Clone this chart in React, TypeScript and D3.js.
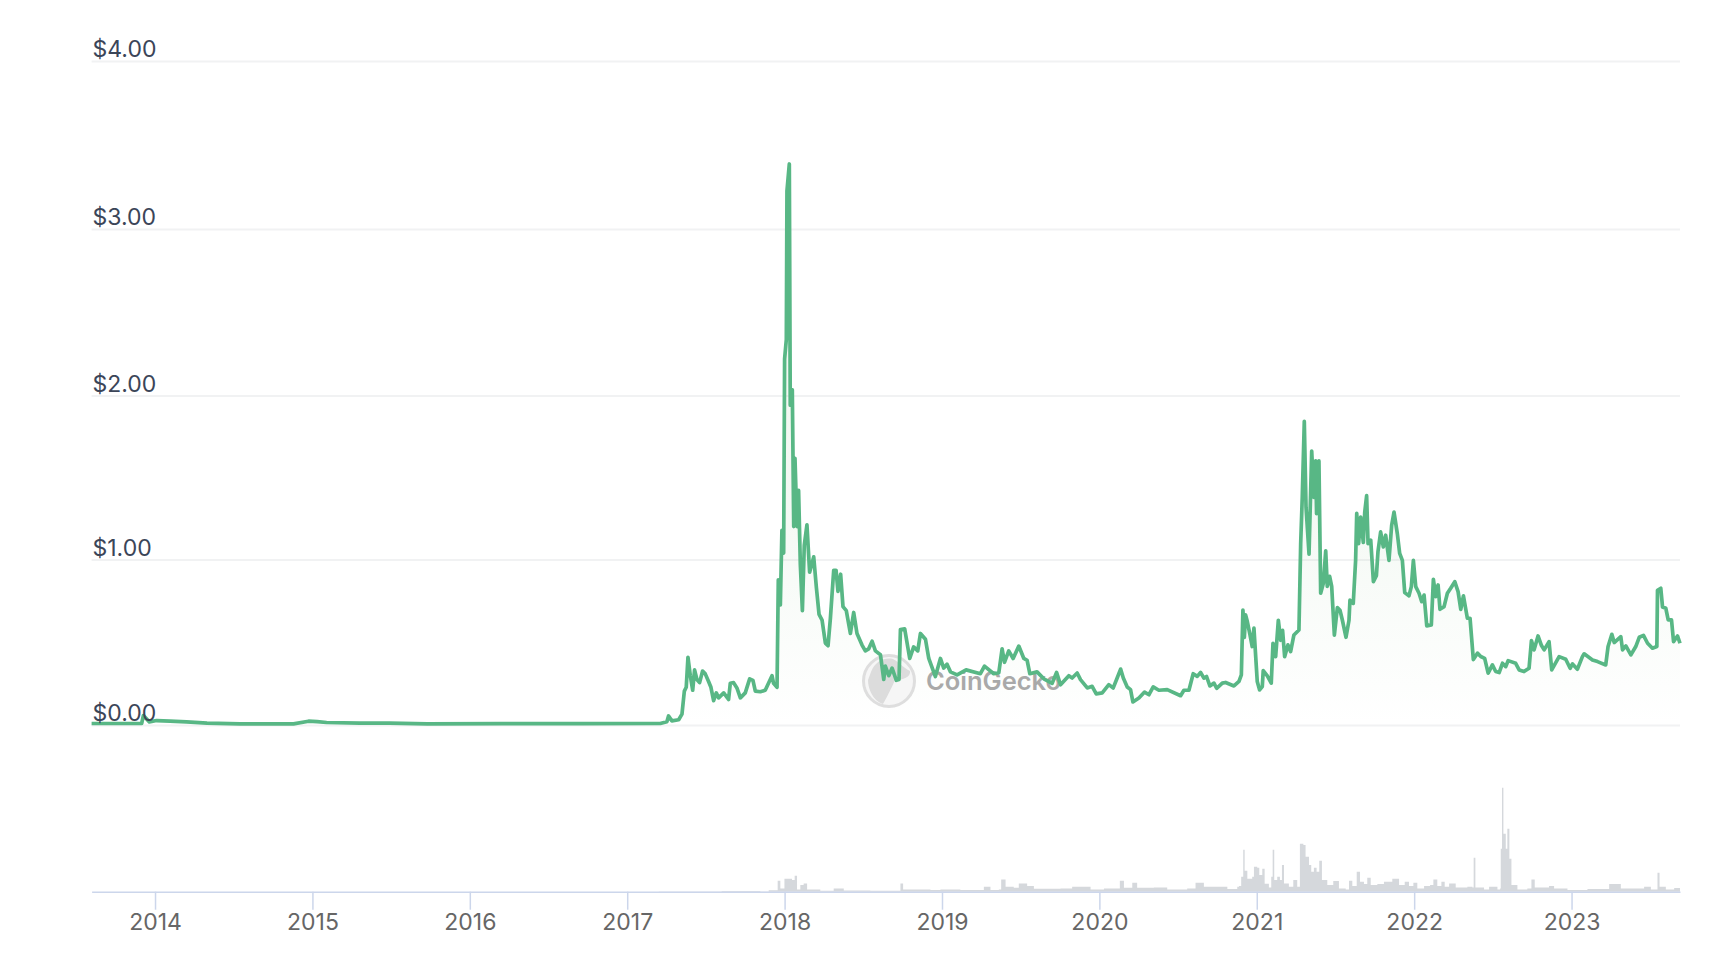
import * as d3 from "d3";
import { useEffect, useRef } from "react";

// price history (decimal years, USD)
const priceYears = [
  2013.597, 2013.915, 2013.926, 2013.964, 2014.01, 2014.095, 2014.2, 2014.33, 2014.54, 2014.88, 2014.975, 2015.03,
  2015.09, 2015.3, 2015.49, 2015.73, 2016.2, 2016.7, 2017.21, 2017.252, 2017.263, 2017.284, 2017.327, 2017.348,
  2017.363, 2017.375, 2017.386, 2017.401, 2017.416, 2017.428, 2017.443, 2017.46, 2017.479, 2017.496, 2017.517,
  2017.532, 2017.549, 2017.566, 2017.581, 2017.613, 2017.644, 2017.655, 2017.676, 2017.697, 2017.719, 2017.75,
  2017.778, 2017.799, 2017.814, 2017.846, 2017.877, 2017.92, 2017.93, 2017.952, 2017.96, 2017.973, 2017.983,
  2017.994, 2018.0, 2018.011, 2018.015, 2018.03, 2018.036, 2018.049, 2018.058, 2018.066, 2018.079, 2018.089,
  2018.1, 2018.113, 2018.125, 2018.142, 2018.159, 2018.185, 2018.202, 2018.219, 2018.238, 2018.259, 2018.276,
  2018.291, 2018.312, 2018.327, 2018.339, 2018.356, 2018.371, 2018.392, 2018.418, 2018.439, 2018.46, 2018.492,
  2018.513, 2018.534, 2018.556, 2018.577, 2018.609, 2018.63, 2018.64, 2018.662, 2018.683, 2018.71, 2018.727,
  2018.736, 2018.763, 2018.795, 2018.82, 2018.846, 2018.863, 2018.895, 2018.916, 2018.958, 2018.99, 2019.011,
  2019.032, 2019.054, 2019.096, 2019.153, 2019.244, 2019.27, 2019.329, 2019.361, 2019.382, 2019.397, 2019.424,
  2019.452, 2019.488, 2019.52, 2019.541, 2019.558, 2019.604, 2019.647, 2019.7, 2019.728, 2019.753, 2019.806,
  2019.827, 2019.859, 2019.88, 2019.923, 2019.954, 2019.98, 2020.018, 2020.06, 2020.088, 2020.113, 2020.135,
  2020.152, 2020.177, 2020.198, 2020.213, 2020.251, 2020.287, 2020.315, 2020.342, 2020.378, 2020.431, 2020.516,
  2020.537, 2020.569, 2020.596, 2020.622, 2020.643, 2020.664, 2020.681, 2020.702, 2020.728, 2020.745, 2020.781,
  2020.802, 2020.855, 2020.887, 2020.902, 2020.912, 2020.921, 2020.929, 2020.94, 2020.957, 2020.971, 2020.982,
  2021.003, 2021.018, 2021.035, 2021.041, 2021.067, 2021.092, 2021.103, 2021.12, 2021.137, 2021.152, 2021.164,
  2021.177, 2021.198, 2021.215, 2021.236, 2021.268, 2021.279, 2021.289, 2021.302, 2021.313, 2021.332, 2021.349,
  2021.363, 2021.374, 2021.38, 2021.395, 2021.406, 2021.423, 2021.438, 2021.448, 2021.463, 2021.476, 2021.493,
  2021.512, 2021.529, 2021.544, 2021.567, 2021.586, 2021.592, 2021.613, 2021.628, 2021.635, 2021.647, 2021.66,
  2021.677, 2021.686, 2021.698, 2021.707, 2021.724, 2021.741, 2021.76, 2021.77, 2021.787, 2021.804, 2021.819,
  2021.84, 2021.857, 2021.872, 2021.893, 2021.908, 2021.925, 2021.94, 2021.967, 2021.982, 2021.995, 2022.01,
  2022.031, 2022.048, 2022.063, 2022.08, 2022.109, 2022.122, 2022.137, 2022.152, 2022.164, 2022.19, 2022.211,
  2022.232, 2022.258, 2022.279, 2022.296, 2022.313, 2022.338, 2022.355, 2022.376, 2022.402, 2022.423, 2022.448,
  2022.47, 2022.497, 2022.518, 2022.54, 2022.561, 2022.582, 2022.597, 2022.645, 2022.667, 2022.698, 2022.73,
  2022.745, 2022.762, 2022.787, 2022.809, 2022.826, 2022.857, 2022.874, 2022.921, 2022.963, 2022.991, 2023.006,
  2023.037, 2023.069, 2023.08, 2023.133, 2023.165, 2023.217, 2023.232, 2023.256, 2023.271, 2023.313, 2023.324,
  2023.345, 2023.377, 2023.408, 2023.43, 2023.457, 2023.483, 2023.514, 2023.542, 2023.546, 2023.567, 2023.578,
  2023.599, 2023.614, 2023.635, 2023.648, 2023.673, 2023.689,
];
const priceValues = [
  0.012, 0.012, 0.06, 0.022, 0.03, 0.027, 0.022, 0.014, 0.01, 0.01, 0.026, 0.023,
  0.018, 0.014, 0.014, 0.01, 0.011, 0.011, 0.012, 0.023, 0.058, 0.028, 0.035, 0.069,
  0.208, 0.231, 0.412, 0.301, 0.213, 0.336, 0.278, 0.259, 0.329, 0.312, 0.266,
  0.231, 0.15, 0.197, 0.167, 0.197, 0.157, 0.255, 0.259, 0.227, 0.167, 0.197,
  0.282, 0.273, 0.208, 0.204, 0.213, 0.301, 0.255, 0.231, 0.88, 0.729, 1.181,
  1.042, 2.222, 2.34, 3.229, 3.39, 1.944, 2.037, 1.204, 1.62, 1.204, 1.424,
  0.972, 0.694, 1.088, 1.215, 0.926, 1.019, 0.833, 0.671, 0.637, 0.498, 0.482,
  0.648, 0.938, 0.938, 0.81, 0.914, 0.718, 0.694, 0.556, 0.683, 0.556, 0.486,
  0.451, 0.463, 0.509, 0.451, 0.428, 0.278, 0.359, 0.301, 0.347, 0.273, 0.278,
  0.579, 0.584, 0.405, 0.475, 0.451, 0.556, 0.521, 0.405, 0.296, 0.405, 0.347,
  0.37, 0.324, 0.306, 0.336, 0.313, 0.359, 0.313, 0.319, 0.463, 0.382, 0.451,
  0.405, 0.48, 0.405, 0.394, 0.313, 0.324, 0.282, 0.255, 0.321, 0.246, 0.301,
  0.287, 0.317, 0.277, 0.227, 0.237, 0.191, 0.197, 0.247, 0.227, 0.287, 0.341,
  0.287, 0.233, 0.217, 0.142, 0.166, 0.202, 0.186, 0.233, 0.213, 0.217, 0.18,
  0.213, 0.213, 0.313, 0.297, 0.321, 0.286, 0.296, 0.239, 0.256, 0.225, 0.256,
  0.26, 0.239, 0.266, 0.306, 0.698, 0.533, 0.668, 0.628, 0.547, 0.477, 0.588,
  0.266, 0.215, 0.235, 0.332, 0.3, 0.256, 0.497, 0.416, 0.636, 0.515, 0.575,
  0.416, 0.487, 0.447, 0.547, 0.577, 1.101, 1.382, 1.845, 1.322, 1.036, 1.664,
  1.382, 1.604, 1.282, 1.604, 0.799, 0.859, 1.056, 0.841, 0.901, 0.841, 0.546,
  0.712, 0.696, 0.636, 0.533, 0.636, 0.757, 0.738, 0.998, 1.284, 1.1, 1.262,
  1.107, 1.292, 1.392, 1.1, 1.121, 0.869, 0.905, 1.05, 1.171, 1.08, 1.151,
  0.998, 1.211, 1.292, 1.161, 1.04, 0.998, 0.803, 0.783, 0.839, 0.998, 0.839,
  0.799, 0.748, 0.788, 0.602, 0.608, 0.883, 0.779, 0.849, 0.702, 0.718, 0.799,
  0.829, 0.869, 0.809, 0.702, 0.783, 0.648, 0.648, 0.398, 0.437, 0.417, 0.406,
  0.316, 0.366, 0.326, 0.32, 0.376, 0.356, 0.392, 0.376, 0.336, 0.326, 0.346,
  0.513, 0.457, 0.541, 0.483, 0.457, 0.507, 0.336, 0.416, 0.4, 0.346, 0.372,
  0.34, 0.416, 0.433, 0.396, 0.386, 0.366, 0.477, 0.551, 0.501, 0.537, 0.457,
  0.481, 0.427, 0.477, 0.533, 0.545, 0.497, 0.467, 0.477, 0.817, 0.829, 0.716,
  0.708, 0.638, 0.638, 0.507, 0.541, 0.497,
];

// traded volume, relative units (the chart has no volume axis)
const volumeYears = [
  2013.597, 2017.2, 2017.6, 2017.846, 2017.899, 2017.941, 2017.956, 2017.973, 2017.999, 2018.026, 2018.047, 2018.064,
  2018.079, 2018.1, 2018.121, 2018.143, 2018.185, 2018.227, 2018.312, 2018.376, 2018.545, 2018.725, 2018.736,
  2018.753, 2018.863, 2018.927, 2018.99, 2019.117, 2019.202, 2019.266, 2019.308, 2019.361, 2019.376, 2019.404,
  2019.456, 2019.488, 2019.541, 2019.584, 2019.647, 2019.753, 2019.827, 2019.944, 2020.029, 2020.13, 2020.156,
  2020.209, 2020.24, 2020.346, 2020.431, 2020.558, 2020.611, 2020.664, 2020.813, 2020.876, 2020.887, 2020.901,
  2020.914, 2020.923, 2020.94, 2020.971, 2020.982, 2021.003, 2021.016, 2021.035, 2021.05, 2021.077, 2021.092,
  2021.101, 2021.111, 2021.13, 2021.147, 2021.16, 2021.173, 2021.204, 2021.232, 2021.257, 2021.274, 2021.296,
  2021.31, 2021.332, 2021.346, 2021.363, 2021.38, 2021.397, 2021.414, 2021.448, 2021.486, 2021.522, 2021.565,
  2021.586, 2021.607, 2021.635, 2021.656, 2021.681, 2021.702, 2021.724, 2021.766, 2021.808, 2021.861, 2021.904,
  2021.94, 2021.967, 2021.995, 2022.02, 2022.063, 2022.101, 2022.122, 2022.147, 2022.173, 2022.194, 2022.222,
  2022.264, 2022.338, 2022.37, 2022.378, 2022.389, 2022.444, 2022.476, 2022.529, 2022.546, 2022.55, 2022.558,
  2022.567, 2022.582, 2022.592, 2022.605, 2022.618, 2022.656, 2022.719, 2022.745, 2022.766, 2022.857, 2022.889,
  2022.974, 2023.101, 2023.239, 2023.313, 2023.461, 2023.504, 2023.535, 2023.546, 2023.559, 2023.599, 2023.652,
  2023.689,
];
const volumeValues = [
  0, 0.2, 0.6, 0.3, 1.5, 1.5, 11, 3.3, 13, 13, 11.7, 16,
  2.3, 6.7, 8.3, 2.3, 2.3, 1, 3.3, 1.3, 1, 1, 8.3,
  2.3, 2.3, 1.7, 2.3, 1.7, 1.7, 5, 1.7, 2.3, 12.3, 5,
  4, 8.3, 5.7, 3, 3, 3.3, 5, 2.3, 3.3, 11, 4,
  9, 4, 4.3, 2.3, 3.3, 9, 5, 2.7, 5, 5.7, 15,
  42, 21, 13, 15, 25, 24, 16.7, 23, 8, 4.3, 15,
  42, 11.7, 15, 11.7, 26.7, 8.3, 5, 11.7, 5, 48, 46.7,
  35, 26.7, 20, 24, 20, 31, 11.7, 6.7, 10.7, 3.3, 2.3,
  11, 5.7, 20, 10, 7.7, 14, 6.7, 7.7, 10, 13, 6.7,
  10, 5.7, 9, 3.3, 5.7, 6.7, 12.3, 5.7, 10, 5, 8.3,
  4.3, 5, 4.3, 34, 4.3, 2.3, 5, 2.3, 3.3, 43, 104,
  58, 43, 63, 33, 6.7, 2.3, 3.3, 12.3, 4.3, 5.7, 3.3,
  1.7, 2.7, 7.7, 3.3, 5, 2.3, 2.3, 19, 5, 2.3, 3.7,
  3,
];

const yearTicks = [2014, 2015, 2016, 2017, 2018, 2019, 2020, 2021, 2022, 2023];
const priceTicks = [0, 1, 2, 3, 4];

const WIDTH = 1710;
const HEIGHT = 968;
const FONT = "Inter, 'Noto Sans', sans-serif";

const Chart = () => {
  const ref: any = useRef();

  useEffect(() => {
    const svg = d3.select(ref.current);
    svg.selectAll("*").remove();

    const left = 91.6, right = 1680;

    const x: any = d3.scaleLinear().domain([2013.597, 2023.689]).range([left, right]);
    // the grid in the picture is not quite evenly spaced
    const y: any = d3.scaleLinear().domain(priceTicks).range([725.5, 560, 396, 229.5, 61.5]);
    const yVol: any = d3.scaleLinear().domain([0, 104]).range([891.7, 787.7]);

    const price = priceYears.map((yr, i) => ({ yr, v: priceValues[i] }));
    const volume = volumeYears.map((yr, i) => ({ yr, v: volumeValues[i] }));

    // soft green under the price line
    const grad = svg.append("defs").append("linearGradient")
      .attr("id", "priceFill")
      .attr("gradientUnits", "userSpaceOnUse")
      .attr("x1", 0).attr("x2", 0)
      .attr("y1", y(1.5)).attr("y2", y(0));
    grad.append("stop").attr("offset", 0).attr("stop-color", "#78b578").attr("stop-opacity", 0.09);
    grad.append("stop").attr("offset", 1).attr("stop-color", "#78b578").attr("stop-opacity", 0);

    // grid
    svg.append("g").selectAll("line").data(priceTicks).join("line")
      .attr("x1", left).attr("x2", right)
      .attr("y1", (d: any) => y(d)).attr("y2", (d: any) => y(d))
      .attr("stroke", "#f1f2f3").attr("stroke-width", 2);

    // area
    const priceArea = d3.area<any>().x((d) => x(d.yr)).y0(y(0)).y1((d) => y(d.v));
    svg.append("path").datum(price).attr("fill", "url(#priceFill)").attr("d", priceArea);

    // watermark
    const mark = svg.append("g").attr("transform", "translate(889, 681)");
    mark.append("circle").attr("r", 25.5).attr("fill", "#f6f6f6").attr("stroke", "#dedede").attr("stroke-width", 3);
    mark.append("path")
      .attr("d", "M-18,-9 C-14,-20 -4,-24 4,-22 C10,-19 13,-14 21,-10 C22,-4 14,-1 6,-1 C3,6 -1,14 -6,23 C-16,20 -21,8 -21,-1 Z")
      .attr("fill", "#dcdcdc");
    svg.append("text")
      .attr("x", 926).attr("y", 690)
      .attr("font-family", FONT).attr("font-size", 25.5).attr("font-weight", 600)
      .attr("fill", "#a9a9a9")
      .text("CoinGecko");

    // price line
    const priceLine = d3.line<any>().x((d) => x(d.yr)).y((d) => y(d.v));
    svg.append("path").datum(price)
      .attr("fill", "none")
      .attr("stroke", "#58b785")
      .attr("stroke-width", 3.7)
      .attr("stroke-linejoin", "round")
      .attr("d", priceLine);

    // y labels sit above their grid line, inside the plot
    svg.append("g").selectAll("text").data(priceTicks).join("text")
      .attr("x", 92.5)
      .attr("y", (d: any) => y(d) - 4.5)
      .attr("font-family", FONT).attr("font-size", 23)
      .attr("fill", "#3b4558")
      .text((d: any) => d3.format("$.2f")(d));

    // volume
    const volArea = d3.area<any>().curve(d3.curveStepAfter).x((d) => x(d.yr)).y0(yVol(0)).y1((d) => yVol(d.v));
    svg.append("path").datum(volume).attr("fill", "#d5d8dc").attr("d", volArea);

    // x axis
    const axis = svg.append("g")
      .attr("transform", `translate(0, ${yVol(0)})`)
      .call(d3.axisBottom(x).tickValues(yearTicks).tickFormat(d3.format("d") as any).tickSize(18).tickSizeOuter(0).tickPadding(3.5) as any);
    axis.select(".domain").attr("stroke", "#ccd6eb").attr("stroke-width", 1.5);
    axis.selectAll(".tick line").attr("stroke", "#ccd6eb").attr("stroke-width", 1.5);
    axis.selectAll(".tick text")
      .attr("font-family", FONT).attr("font-size", 23)
      .attr("fill", "#666666");
    axis.attr("font-family", FONT);
  }, []);

  return (
    <svg
      ref={ref}
      width={WIDTH}
      height={HEIGHT}
      style={{ position: "absolute", left: 0, top: 0, display: "block", background: "#ffffff" }}
    />
  );
};

export default function App() {
  return <Chart />;
}
